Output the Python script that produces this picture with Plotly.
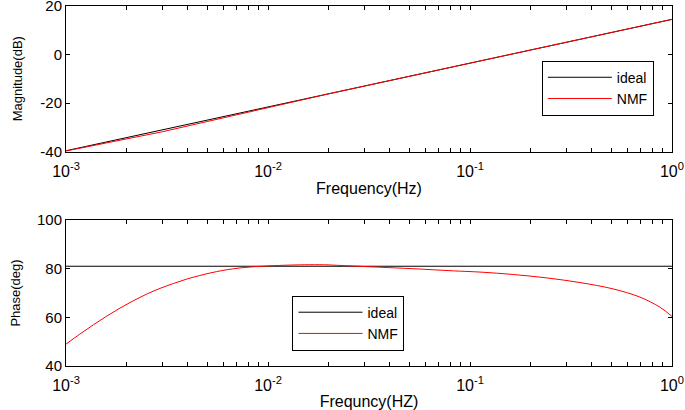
import plotly.graph_objects as go

# magnitude (dB)
mag_freq = [1e-3, 2e-3, 3e-3, 5e-3, 1e-2, 2e-2, 1e-1, 1.0]
mag_ideal = [-39.6, -34.2, -31.0, -27.0, -21.6, -16.2, -3.6, 14.4]
mag_nmf = [-39.7, -34.8, -31.8, -27.6, -21.8, -16.2, -3.6, 14.4]

# phase (deg)
ph_freq = [1e-3, 1.17e-3, 1.365e-3, 1.59e-3, 1.85e-3, 2.15e-3, 2.5e-3, 2.92e-3,
           3.4e-3, 3.95e-3, 4.6e-3, 5.57e-3, 7.27e-3, 1.2e-2, 1.88e-2, 2.3e-2,
           3.58e-2, 5.2e-2, 8.3e-2, 0.112, 0.164, 0.24, 0.35, 0.51, 0.69, 0.87, 1.0]
ph_nmf = [49.0, 53.1, 56.9, 60.5, 63.8, 66.8, 69.5, 71.9,
          73.9, 75.7, 77.2, 78.8, 80.3, 81.4, 81.6, 81.3,
          80.6, 80.0, 79.1, 78.6, 77.6, 76.2, 74.3, 71.7, 68.4, 64.2, 60.4]
ph_ideal = [81.0] * len(ph_freq)

decades = [1e-3, 1e-2, 1e-1, 1.0]
decade_labels = ["10<sup>-3</sup>", "10<sup>-2</sup>", "10<sup>-1</sup>", "10<sup>0</sup>"]
mag_ticks = [-40, -20, 0, 20]
ph_ticks = [40, 60, 80, 100]

FONT = "Liberation Sans, Arial, sans-serif"

# log ticks: 1..9 per decade, labels only on decades
tickvals, ticktext = [], []
for i, d in enumerate(decades[:-1]):
    for k in range(1, 10):
        tickvals.append(d * k)
        ticktext.append(decade_labels[i] if k == 1 else "")
tickvals.append(decades[-1])
ticktext.append(decade_labels[-1])

fig = go.Figure()
fig.add_trace(go.Scatter(x=mag_freq, y=mag_ideal, mode="lines", name="ideal",
                         line=dict(color="black", width=1), legend="legend"))
fig.add_trace(go.Scatter(x=mag_freq, y=mag_nmf, mode="lines", name="NMF",
                         line=dict(color="red", width=1), legend="legend"))
fig.add_trace(go.Scatter(x=ph_freq, y=ph_ideal, mode="lines", name="ideal",
                         line=dict(color="black", width=1), xaxis="x2", yaxis="y2",
                         legend="legend2"))
fig.add_trace(go.Scatter(x=ph_freq, y=ph_nmf, mode="lines", name="NMF",
                         line=dict(color="red", width=1, shape="spline", smoothing=1),
                         xaxis="x2", yaxis="y2", legend="legend2"))

xcommon = dict(type="log", range=[-3, 0], tickvals=tickvals, ticktext=ticktext,
               ticks="inside", ticklen=4, tickcolor="black", showline=True,
               linecolor="black", linewidth=1, mirror="ticks", showgrid=False,
               zeroline=False, automargin=False, ticklabeloverflow="allow",
               ticklabelstandoff=5, tickfont=dict(size=16, color="black"))
ycommon = dict(ticks="inside", ticklen=4, tickcolor="black", showline=True,
               linecolor="black", linewidth=1, mirror="ticks", showgrid=False,
               zeroline=False, automargin=False, ticklabeloverflow="allow",
               tickfont=dict(size=15, color="black"))
legcommon = dict(xanchor="left", yanchor="top", bordercolor="black", borderwidth=1,
                 bgcolor="white", font=dict(size=14), itemwidth=64, tracegroupgap=0)

fig.update_layout(
    width=685, height=410,
    margin=dict(l=0, r=0, t=0, b=0),
    paper_bgcolor="white", plot_bgcolor="white",
    font=dict(family=FONT, color="black", size=13),
    xaxis=dict(xcommon, domain=[0.0964, 0.981], anchor="y",
               title=dict(text="Frequency(Hz)", font=dict(size=16), standoff=3)),
    yaxis=dict(ycommon, domain=[0.630, 0.986], anchor="x", range=[-40, 20],
               tickvals=mag_ticks, ticktext=[str(v) for v in mag_ticks],
               title=dict(text="Magnitude(dB)", font=dict(size=13), standoff=14)),
    xaxis2=dict(xcommon, domain=[0.0964, 0.981], anchor="y2",
                title=dict(text="Frequncy(HZ)", font=dict(size=16), standoff=3)),
    yaxis2=dict(ycommon, domain=[0.1073, 0.4634], anchor="x2", range=[40, 100],
                tickvals=ph_ticks, ticktext=[str(v) for v in ph_ticks],
                title=dict(text="Phase(deg)", font=dict(size=13), standoff=13)),
    legend=dict(legcommon, x=0.791, y=0.852),
    legend2=dict(legcommon, x=0.427, y=0.279),
    showlegend=True,
)

# drop the page's default body margin so the figure sits at the window corner
fig.write_html("out.html", config={"displayModeBar": False},
               post_script="document.body.style.margin='0';")
